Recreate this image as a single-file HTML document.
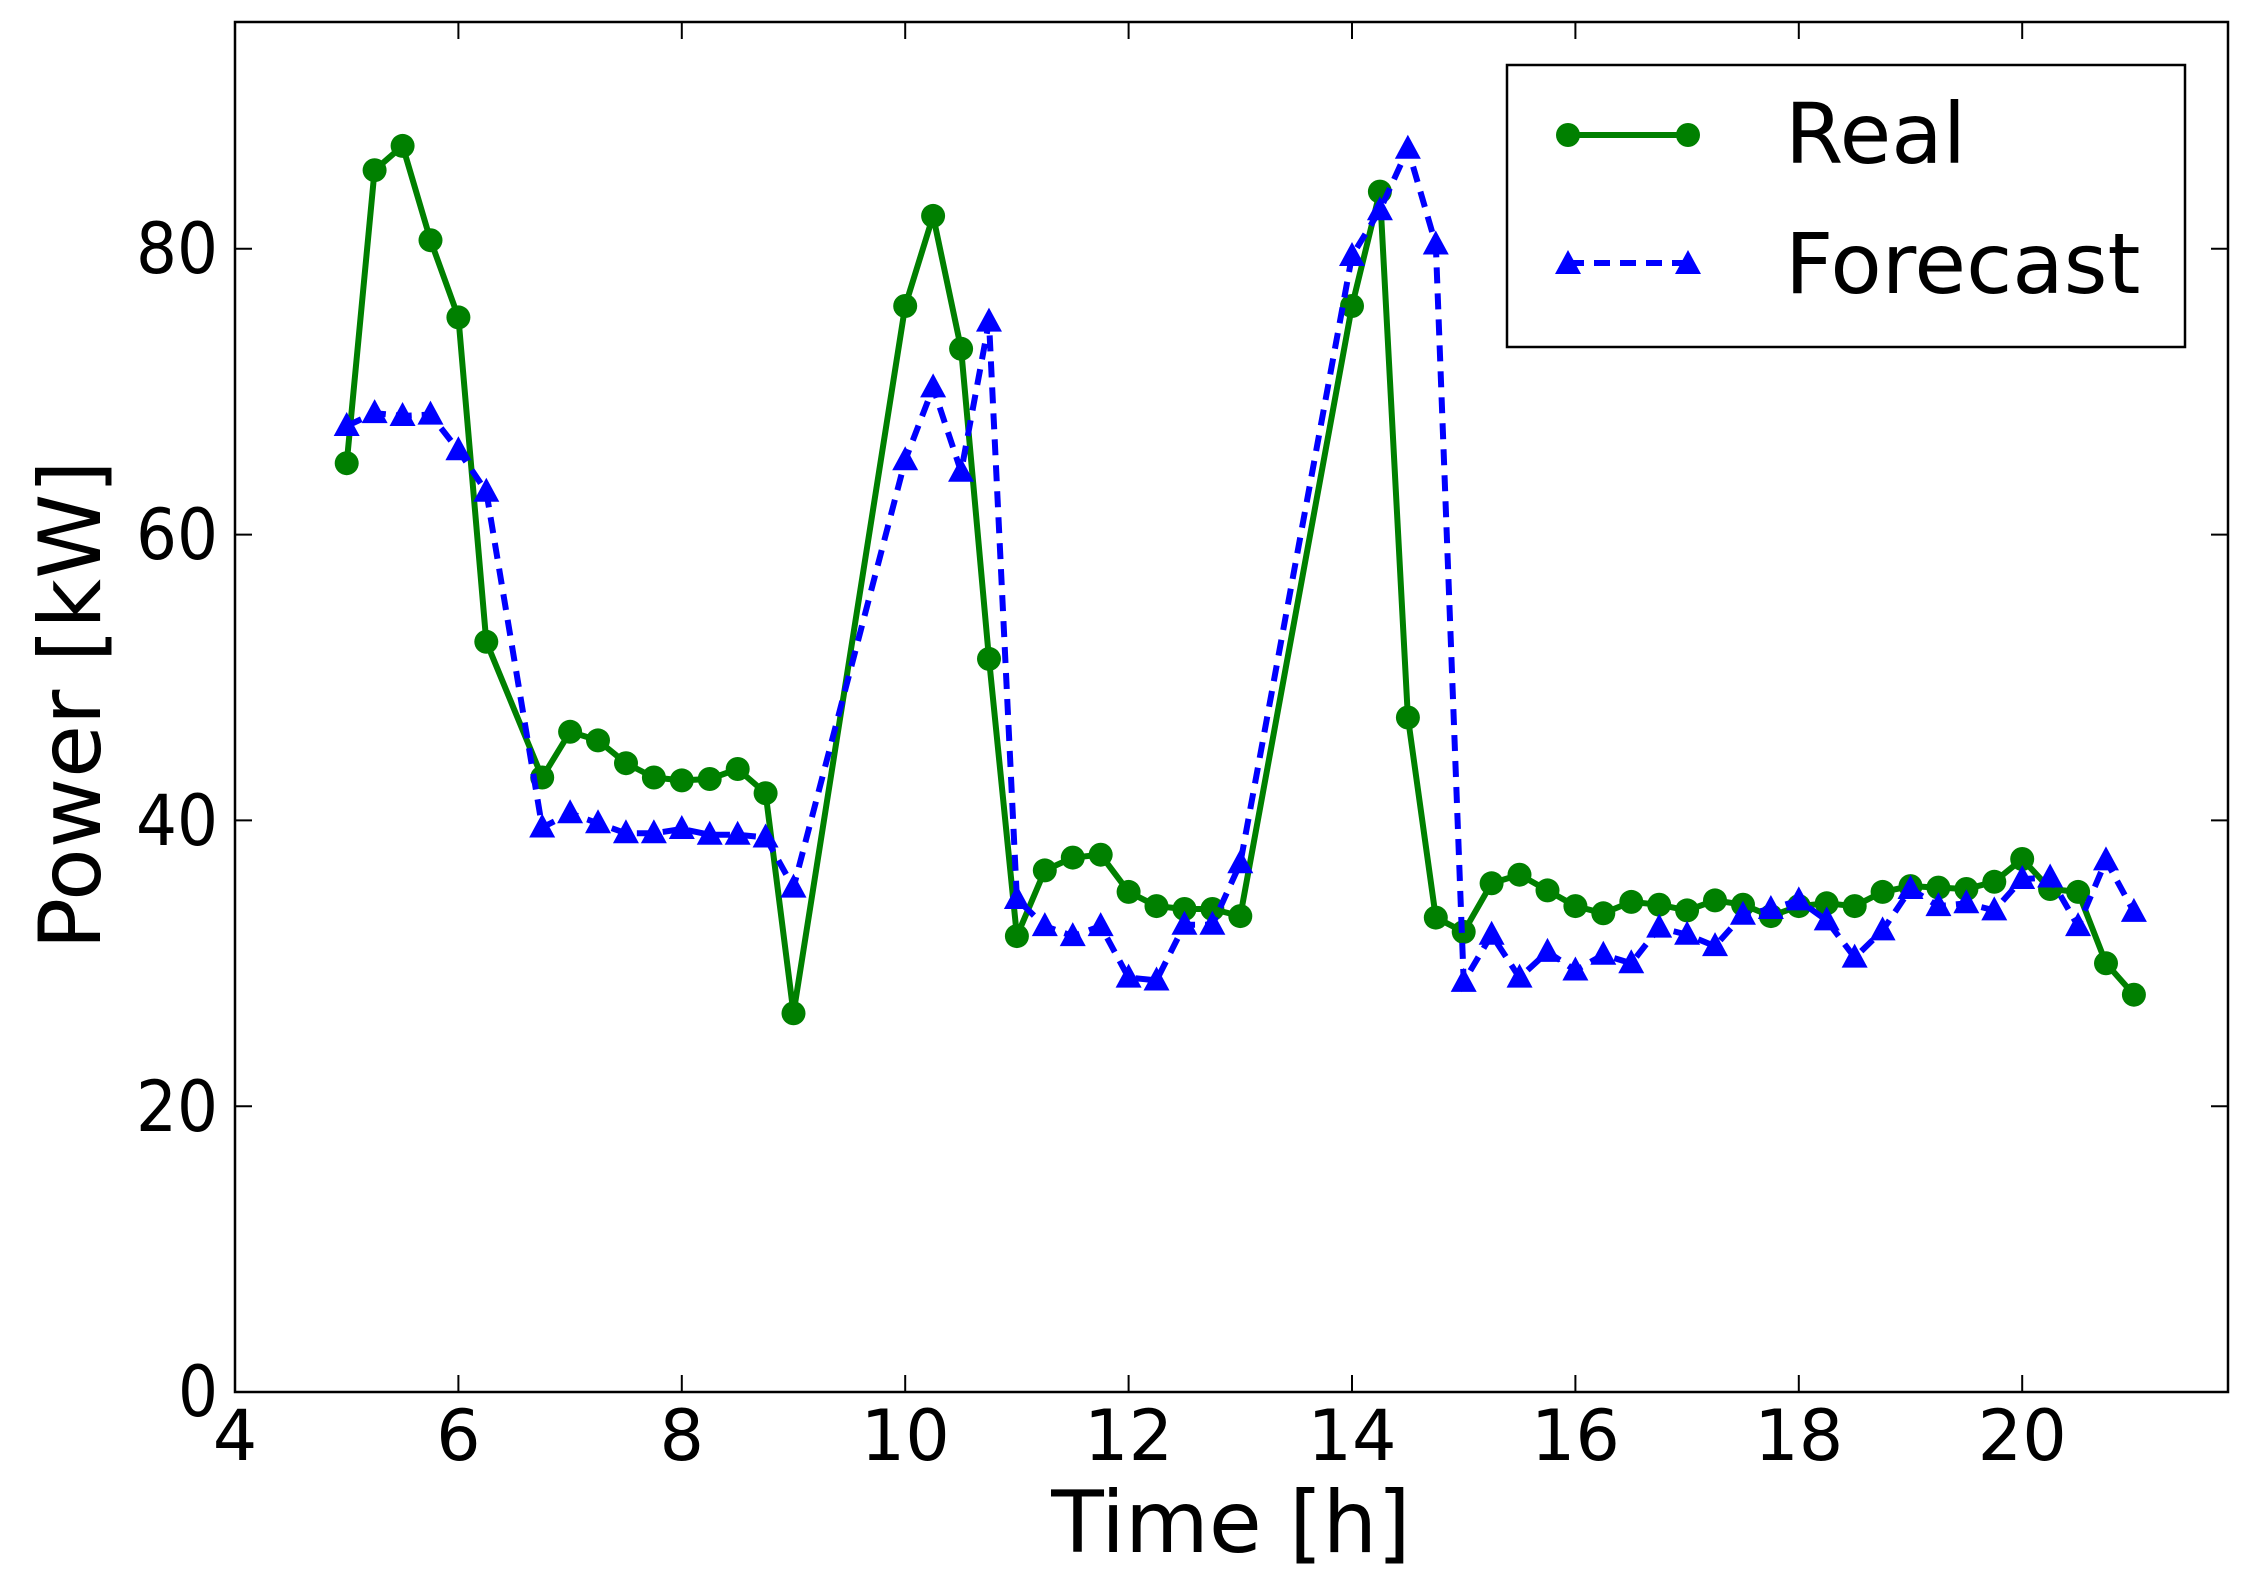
<!DOCTYPE html>
<html><head><meta charset="utf-8"><style>
html,body{margin:0;padding:0;background:#fff;}
svg{display:block;font-family:"DejaVu Sans","Liberation Sans",sans-serif;}
</style></head><body>
<svg id="c" width="2257" height="1591" viewBox="0 0 2257 1591" xmlns="http://www.w3.org/2000/svg">
<rect x="0" y="0" width="2257" height="1591" fill="#fff"/>
<g id="plot"></g>
<rect x="235" y="22" width="1993" height="1370" fill="none" stroke="#000" stroke-width="2.5"/>
<g id="ticks" stroke="#000" stroke-width="2"></g>
<g font-size="70" fill="#000" text-anchor="end">
<text x="218" y="1416" textLength="40" lengthAdjust="spacingAndGlyphs">0</text>
<text x="218" y="1131" textLength="82" lengthAdjust="spacingAndGlyphs">20</text>
<text x="218" y="845" textLength="82" lengthAdjust="spacingAndGlyphs">40</text>
<text x="218" y="559" textLength="82" lengthAdjust="spacingAndGlyphs">60</text>
<text x="218" y="273" textLength="82" lengthAdjust="spacingAndGlyphs">80</text>
</g>
<g id="xl" font-size="70" fill="#000" text-anchor="middle">
<text x="235" y="1460">4</text>
<text x="458.4" y="1460">6</text>
<text x="681.8" y="1460">8</text>
<text x="905.2" y="1460">10</text>
<text x="1128.6" y="1460">12</text>
<text x="1352" y="1460">14</text>
<text x="1575.4" y="1460">16</text>
<text x="1798.8" y="1460">18</text>
<text x="2022.2" y="1460">20</text>
</g>
<text x="1231" y="1552" font-size="86" text-anchor="middle">Time [h]</text>
<text transform="translate(100,705) rotate(-90)" font-size="86" text-anchor="middle">Power [kW]</text>
<rect x="1507" y="65" width="678" height="282" fill="#fff" stroke="#000" stroke-width="2.5"/>
<line x1="1568" y1="135" x2="1688" y2="135" stroke="#008000" stroke-width="6"/>
<circle cx="1568" cy="135" r="12" fill="#008000"/>
<circle cx="1688" cy="135" r="12" fill="#008000"/>
<line x1="1568" y1="263" x2="1688" y2="263" stroke="#0000ff" stroke-width="6" stroke-dasharray="16,10"/>
<polygon points="1568,250 1581,274 1555,274" fill="#0000ff"/>
<polygon points="1688,250 1701,274 1675,274" fill="#0000ff"/>
<text x="1785" y="163" font-size="84">Real</text>
<text x="1785" y="293" font-size="84">Forecast</text>
</svg>
<script>
var X=function(t){return 235+(t-4)*111.7;},Y=function(v){return 1392-v*14.29;};
var real=[[5,65],[5.25,85.5],[5.5,87.2],[5.75,80.6],[6,75.2],[6.25,52.5],[6.75,43],[7,46.2],[7.25,45.6],[7.5,44],[7.75,43],[8,42.8],[8.25,42.9],[8.5,43.6],[8.75,41.9],[9,26.5],[10,76],[10.25,82.3],[10.5,73],[10.75,51.3],[11,31.9],[11.25,36.5],[11.5,37.4],[11.75,37.6],[12,35],[12.25,34],[12.5,33.8],[12.75,33.8],[13,33.3],[14,76],[14.25,84],[14.5,47.2],[14.75,33.2],[15,32.2],[15.25,35.6],[15.5,36.2],[15.75,35.1],[16,34],[16.25,33.5],[16.5,34.3],[16.75,34.1],[17,33.7],[17.25,34.4],[17.5,34.1],[17.75,33.3],[18,34],[18.25,34.2],[18.5,34],[18.75,35],[19,35.4],[19.25,35.3],[19.5,35.2],[19.75,35.7],[20,37.3],[20.25,35.2],[20.5,35],[20.75,30],[21,27.8]];
var fc=[[5,67.6],[5.25,68.5],[5.5,68.3],[5.75,68.4],[6,65.9],[6.25,63],[6.75,39.5],[7,40.5],[7.25,39.8],[7.5,39.1],[7.75,39.1],[8,39.4],[8.25,39],[8.5,39],[8.75,38.8],[9,35.3],[10,65.2],[10.25,70.3],[10.5,64.4],[10.75,74.9],[11,34.5],[11.25,32.6],[11.5,31.9],[11.75,32.6],[12,29],[12.25,28.8],[12.5,32.7],[12.75,32.7],[13,37],[14,79.5],[14.25,82.7],[14.5,87],[14.75,80.3],[15,28.7],[15.25,32],[15.5,29],[15.75,30.8],[16,29.5],[16.25,30.6],[16.5,30],[16.75,32.5],[17,32],[17.25,31.2],[17.5,33.4],[17.75,33.8],[18,34.4],[18.25,33],[18.5,30.4],[18.75,32.3],[19,35.2],[19.25,34],[19.5,34.2],[19.75,33.7],[20,35.9],[20.25,36],[20.5,32.6],[20.75,37.2],[21,33.6]];
var s='';
s+='<polyline fill="none" stroke="#008000" stroke-width="6" stroke-linejoin="round" points="'+real.map(function(p){return X(p[0]).toFixed(1)+','+Y(p[1]).toFixed(1)}).join(' ')+'"/>';
real.forEach(function(p){s+='<circle cx="'+X(p[0]).toFixed(1)+'" cy="'+Y(p[1]).toFixed(1)+'" r="12" fill="#008000"/>';});
s+='<polyline fill="none" stroke="#0000ff" stroke-width="6" stroke-dasharray="16,10" points="'+fc.map(function(p){return X(p[0]).toFixed(1)+','+Y(p[1]).toFixed(1)}).join(' ')+'"/>';
fc.forEach(function(p){var x=X(p[0]),y=Y(p[1]);s+='<polygon fill="#0000ff" points="'+x+','+(y-14)+' '+(x+13)+','+(y+10)+' '+(x-13)+','+(y+10)+'"/>';});
document.getElementById('plot').innerHTML=s;
var t='';
for(var h=6;h<=20;h+=2){var x=X(h);t+='<line x1="'+x+'" y1="1392" x2="'+x+'" y2="1375"/><line x1="'+x+'" y1="22" x2="'+x+'" y2="39"/>';}
for(var v=20;v<=80;v+=20){var y=Y(v);t+='<line x1="235" y1="'+y+'" x2="252" y2="'+y+'"/><line x1="2228" y1="'+y+'" x2="2211" y2="'+y+'"/>';}
document.getElementById('ticks').innerHTML=t;
</script>
</body></html>
